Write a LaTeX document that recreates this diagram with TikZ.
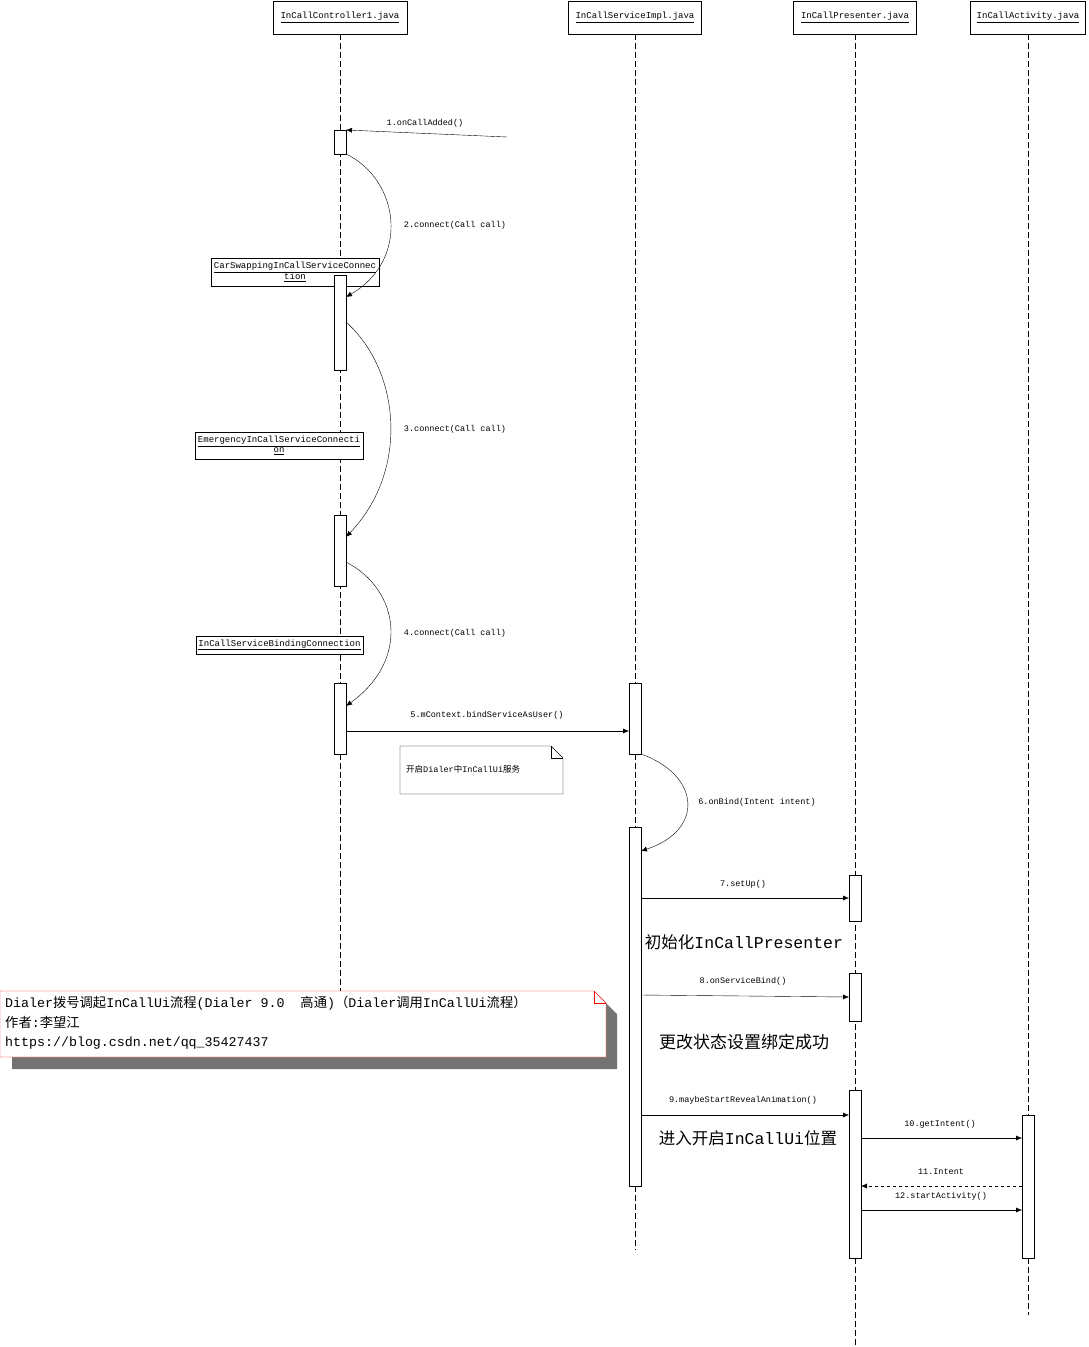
\documentclass[tikz,border=0pt]{standalone}
\usepackage{fontspec}
\setmainfont{Liberation Mono}
\newfontfamily\cjk{Noto Sans CJK SC}
\newcommand{\zh}[1]{{\cjk #1}}
\usetikzlibrary{arrows.meta}
\tikzset{
  obj/.style={draw, fill=white, inner sep=2pt, font=\fontsize{9}{10}\selectfont, align=center},
  act/.style={draw, fill=white},
  life/.style={dash pattern=on 6pt off 3pt},
  msg/.style={-{Latex[length=6pt,width=5pt]}},
  lbl/.style={font=\fontsize{8.5}{9}\selectfont, inner sep=1pt},
  big/.style={font=\fontsize{16.5}{18}\selectfont, inner sep=0pt},
}
\newcommand{\actbox}[4]{\draw[act] (#1-6,#2) rectangle (#1+6,#3) node[pos=0.5] (#4) {};}
\begin{document}
\begin{tikzpicture}[x=1pt,y=-1pt]
  \useasboundingbox (0,0) rectangle (1088,1347);
  % lifelines
  \draw[life] (340,34) -- (340,995);
  \draw[life] (635,34) -- (635,1250);
  \draw[life] (855,34) -- (855,1347);
  \draw[life] (1028,34) -- (1028,1315);
  % headers
  \node[obj, minimum width=134pt, minimum height=33pt] (ctrl) at (340,17.5) {\underline{InCallController1.java}};
  \node[obj, minimum width=133pt, minimum height=33pt] (svc) at (635,17.5) {\underline{InCallServiceImpl.java}};
  \node[obj, minimum width=123pt, minimum height=33pt] (pres) at (855,17.5) {\underline{InCallPresenter.java}};
  \node[obj, minimum width=115pt, minimum height=33pt] (actv) at (1028,17.5) {\underline{InCallActivity.java}};
  % object boxes
  \node[obj, minimum width=168pt, minimum height=28pt, inner sep=1pt] (car) at (295,272) {\underline{CarSwappingInCallServiceConnec}\\\underline{tion}};
  \node[obj, minimum width=168pt, minimum height=27pt, inner sep=1pt] (emg) at (279,445.5) {\underline{EmergencyInCallServiceConnecti}\\\underline{on}};
  \node[obj, minimum width=167pt, minimum height=18pt, inner sep=1pt] (bind) at (279.5,645) {\underline{InCallServiceBindingConnection}};
  % activations
  \actbox{340}{130}{154}{a1}
  \actbox{340}{275}{370}{a2}
  \actbox{340}{515}{586}{a3}
  \actbox{340}{683}{754}{a4}
  \actbox{635}{683}{754}{b1}
  \actbox{635}{827}{1186}{b2}
  \actbox{855}{875}{921}{c1}
  \actbox{855}{973}{1021}{c2}
  \actbox{855}{1090}{1258}{c3}
  \actbox{1028}{1115}{1258}{d1}
  % messages
  \coordinate (m1s) at (507,137);
  \draw[msg] (m1s) -- (346,130);
  \node[lbl] at (425,123) {1.onCallAdded()};
  \draw[msg] (346,154) .. controls (400,180) and (410,260) .. (346,297);
  \node[lbl] at (455,225) {2.connect(Call call)};
  \draw[msg] (346,322) .. controls (400,370) and (410,470) .. (346,537);
  \node[lbl] at (455,429) {3.connect(Call call)};
  \draw[msg] (346,562) .. controls (400,590) and (410,660) .. (346,706);
  \node[lbl] at (455,633) {4.connect(Call call)};
  \draw[msg] (346,731) -- (629,731);
  \node[lbl] at (487,715) {5.mContext.bindServiceAsUser()};
  \draw[msg] (641,754) .. controls (700,775) and (705,830) .. (641,851);
  \node[lbl] at (757,802) {6.onBind(Intent intent)};
  \draw[msg] (641,898) -- (849,898);
  \node[lbl] at (743,884) {7.setUp()};
  \draw[msg] (641,995) -- (849,997);
  \node[lbl] at (743,981) {8.onServiceBind()};
  \draw[msg] (641,1115) -- (849,1115);
  \node[lbl] at (743,1100) {9.maybeStartRevealAnimation()};
  \draw[msg] (861,1138) -- (1022,1138);
  \node[lbl] at (940,1124) {10.getIntent()};
  \draw[msg, dashed] (1022,1186) -- (861,1186);
  \node[lbl] at (941,1172) {11.Intent};
  \draw[msg] (861,1210) -- (1022,1210);
  \node[lbl] at (941,1196) {12.startActivity()};
  % big texts
  \node[big] (t1) at (744,942) {\zh{初始化}InCallPresenter};
  \node[big, font=\cjk\fontsize{17}{18}\selectfont] (t2) at (744,1042) {更改状态设置绑定成功};
  \node[big] (t3) at (748,1138) {\zh{进入开启}InCallUi\zh{位置}};
  % small note
  \draw[fill=white] (400,746) -- (551,746) -- (563,758) -- (563,794) -- (400,794) -- cycle;
  \draw (551,746) -- (551,758) -- (563,758);
  \node[lbl, anchor=west] (n1) at (405,769) {\zh{开启}Dialer\zh{中}InCallUi\zh{服务}};
  % big note
  \fill[gray!90!black] (12,1003) -- (606,1003) -- (617,1014) -- (617,1069) -- (12,1069) -- cycle;
  \draw[red, fill=white] (0,991) -- (594,991) -- (606,1003) -- (606,1057) -- (0,1057) -- cycle;
  \draw[red] (594,991) -- (594,1003) -- (606,1003);
  \node[anchor=north west, align=left, inner sep=0pt, font=\fontsize{13.3}{19.5}\selectfont] (n2) at (5,996)
    {Dialer\zh{拨号调起}InCallUi\zh{流程}(Dialer 9.0\ \ \zh{高通})\zh{（}Dialer\zh{调用}InCallUi\zh{流程）}\\\zh{作者}:\zh{李望江}\\https://blog.csdn.net/qq\_35427437};
\end{tikzpicture}
\end{document}
